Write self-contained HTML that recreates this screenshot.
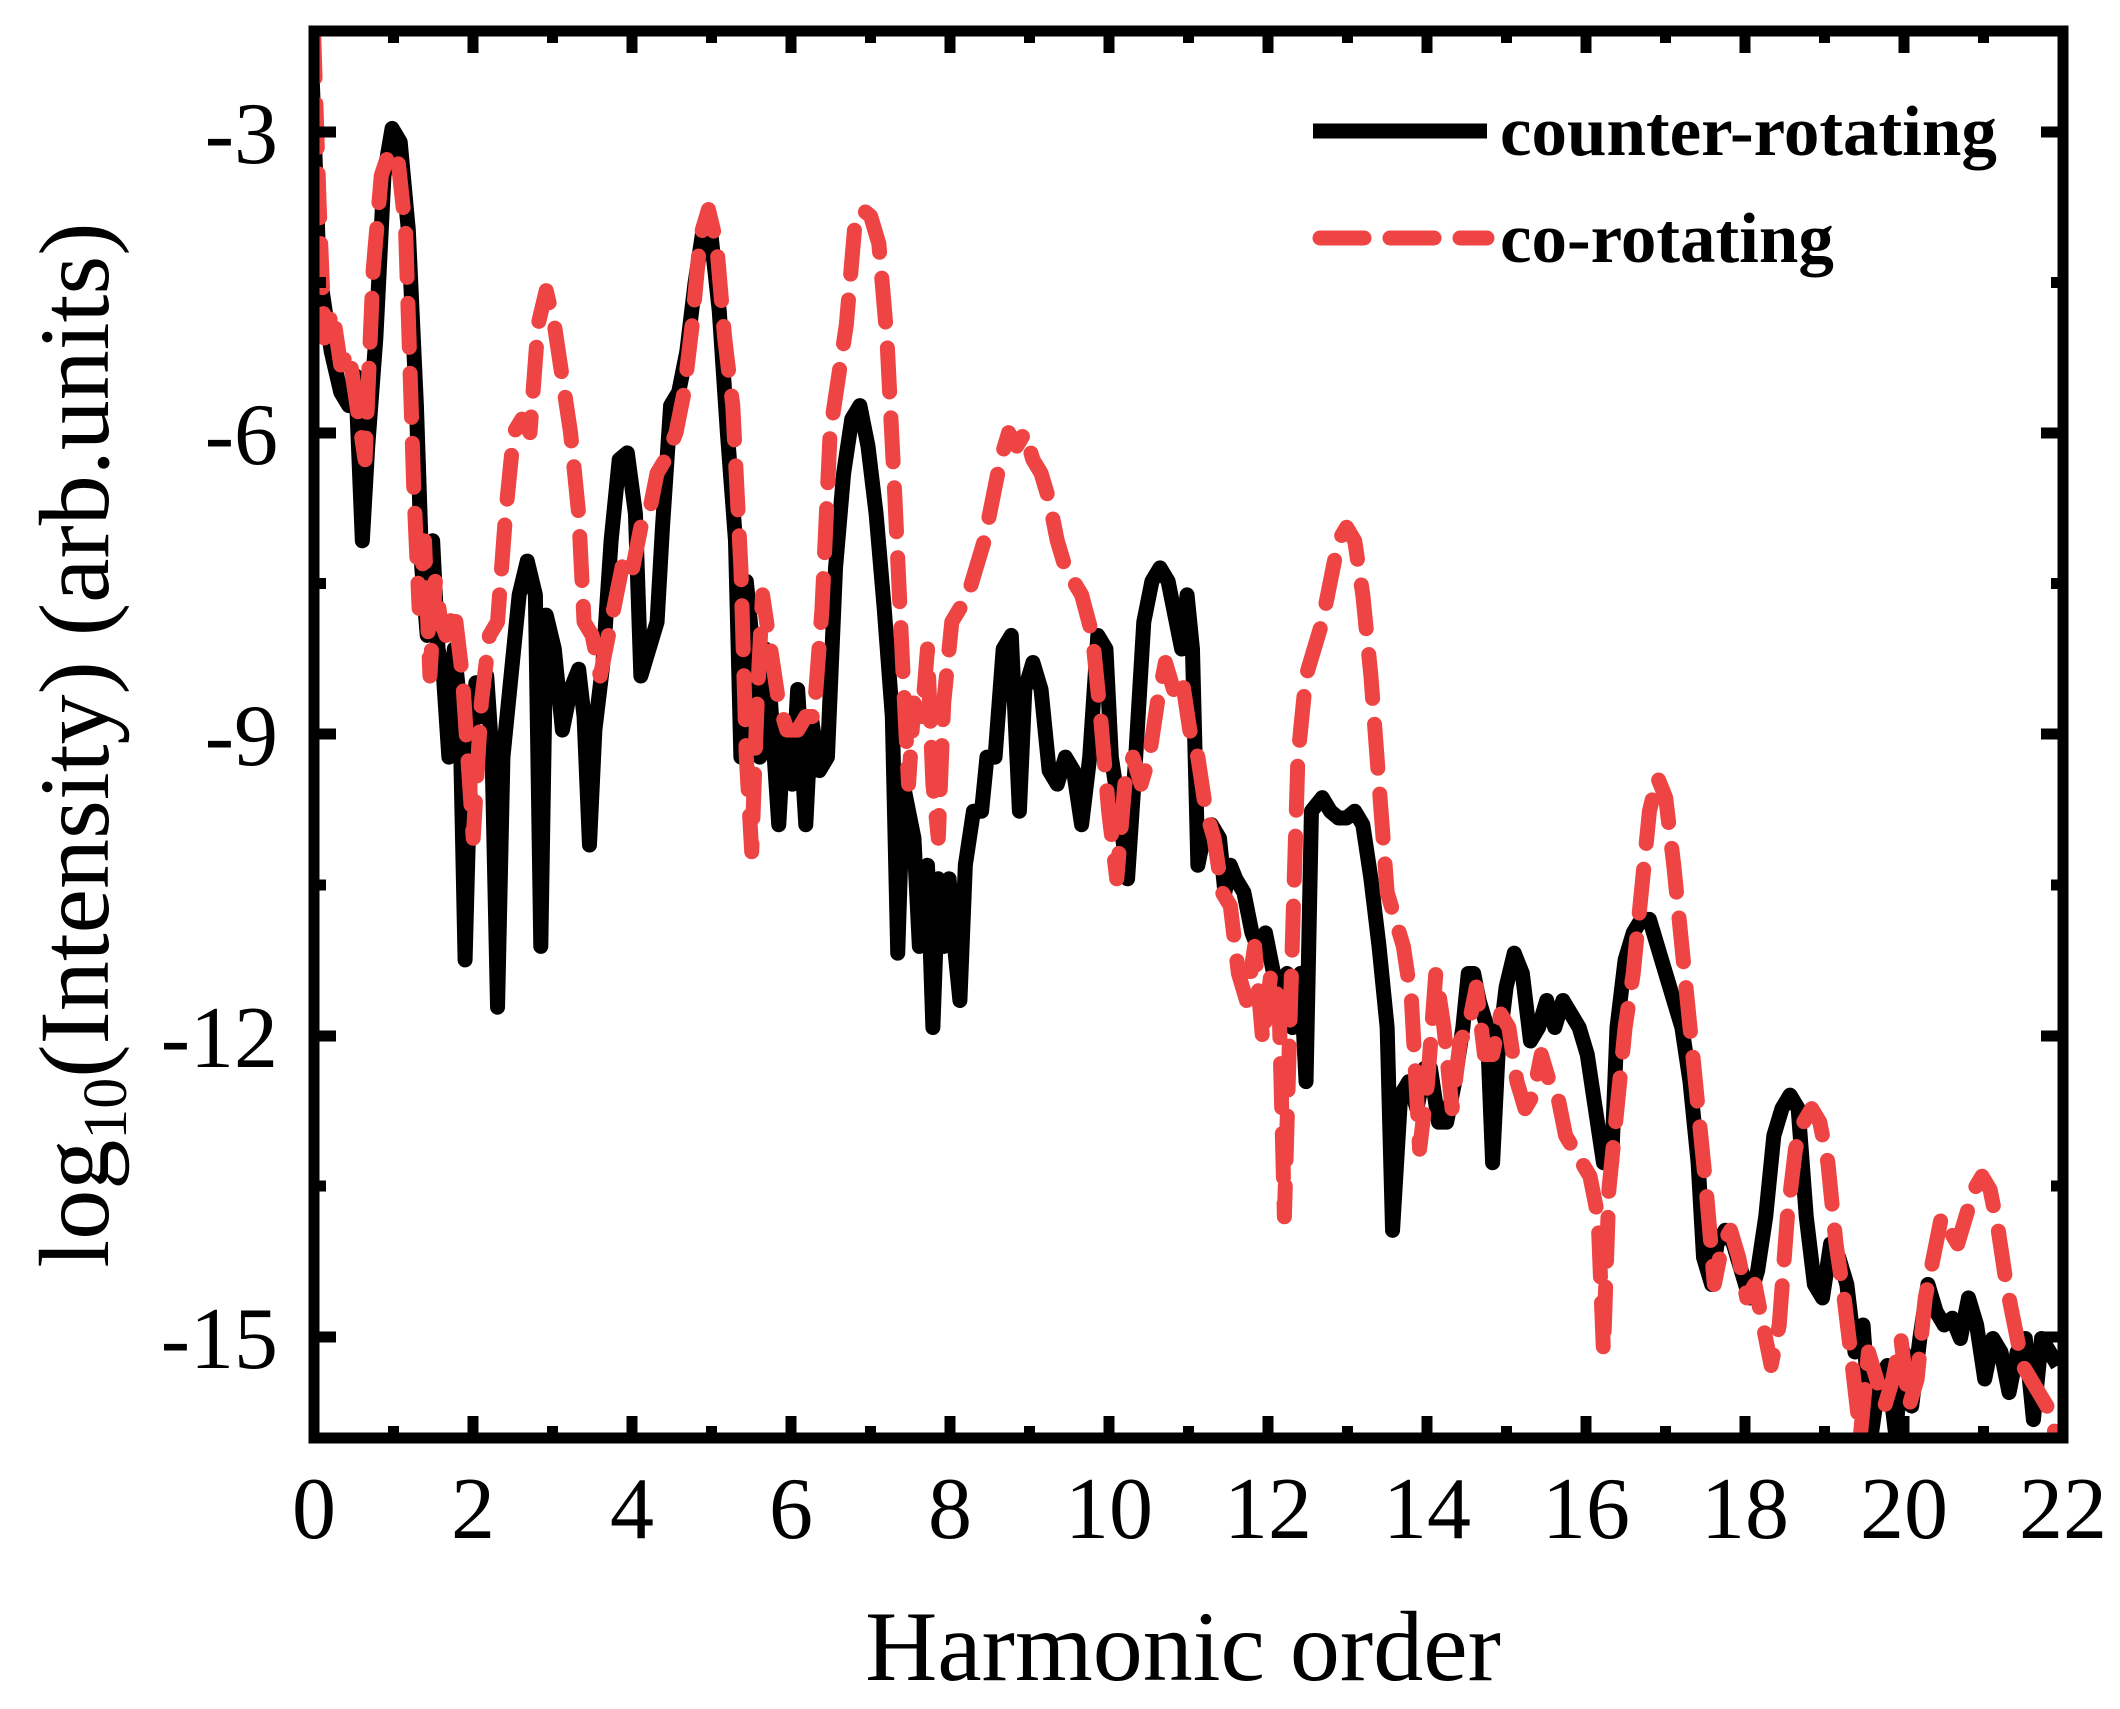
<!DOCTYPE html>
<html><head><meta charset="utf-8"><style>html,body{margin:0;padding:0;background:#fff}svg{display:block}</style></head>
<body>
<svg width="2120" height="1709" viewBox="0 0 2120 1709" xmlns="http://www.w3.org/2000/svg" font-family="Liberation Serif, serif">
<defs><clipPath id="c"><rect x="314" y="31" width="1749" height="1407"/></clipPath></defs>
<g clip-path="url(#c)">
<g transform="scale(1.352)" fill="none" stroke-linejoin="round">
<polyline stroke="#000" stroke-width="15" vector-effect="non-scaling-stroke" points="231,60 236,200 245,260 252,290 258,300 263,278 268,400 272,330 278,250 284,130 290,95 296,105 302,170 308,300 312,420 316,470 320,400 324,480 328,500 332,560 336,480 340,520 344,710 348,560 352,505 356,530 360,500 364,560 368,745 372,560 378,500 384,440 390,415 396,440 400,700 404,455 410,480 416,540 422,510 428,495 432,530 436,625 440,540 446,490 452,400 458,340 464,335 470,380 474,500 480,480 486,460 490,390 496,300 502,290 508,260 514,210 520,170 526,175 532,230 538,320 544,400 548,560 552,430 556,470 562,560 566,480 570,520 576,610 580,540 586,580 590,510 596,610 600,530 606,570 612,560 618,420 624,350 630,310 636,300 642,330 648,380 654,450 660,530 664,705 668,580 672,600 676,620 680,700 686,640 690,760 694,650 698,700 702,650 706,700 710,740 714,640 720,600 726,600 730,560 736,560 742,480 748,470 754,600 758,510 764,490 770,510 776,570 782,580 788,560 794,570 800,610 806,560 812,470 818,480 822,560 828,600 834,650 840,560 846,460 852,430 858,420 864,430 870,460 874,480 878,440 882,480 886,640 890,620 896,610 902,620 906,660 910,640 914,650 920,660 926,690 930,700 936,690 942,720 948,740 952,720 956,760 962,720 966,800 970,600 978,590 984,600 990,605 996,605 1002,600 1008,610 1014,650 1020,700 1026,760 1030,910 1036,810 1042,800 1048,820 1054,790 1058,790 1064,830 1070,830 1076,800 1082,760 1086,720 1090,720 1094,740 1100,760 1104,860 1108,780 1114,730 1120,705 1126,720 1132,770 1138,760 1144,740 1150,760 1156,740 1162,750 1168,760 1174,780 1180,820 1186,860 1192,860 1196,760 1202,710 1208,690 1214,680 1220,680 1226,700 1232,720 1238,740 1244,760 1250,800 1256,860 1260,930 1266,950 1270,920 1276,910 1282,920 1288,940 1294,960 1300,940 1306,900 1312,840 1318,820 1324,810 1330,820 1336,900 1342,950 1348,960 1354,920 1360,930 1366,950 1372,1000 1378,980 1384,1062 1390,1020 1396,1010 1402,1060 1408,1000 1414,1040 1420,990 1426,950 1432,970 1438,980 1444,975 1450,990 1456,960 1462,980 1468,1020 1474,990 1480,1000 1486,1030 1492,1000 1498,990 1504,1050 1510,990 1516,1000 1522,1010"/>
<polyline stroke="#ef4444" stroke-width="15" stroke-dasharray="44 26" stroke-linecap="round" vector-effect="non-scaling-stroke" points="232,25 236,150 240,250 246,230 252,270 258,260 264,300 270,340 276,200 282,130 288,112 294,115 300,170 306,360 310,450 314,400 318,500 322,430 326,460 330,470 336,450 342,500 346,560 350,620 356,520 362,470 368,460 374,380 380,320 386,310 392,320 398,240 404,215 410,240 416,280 422,320 428,380 432,460 438,470 444,500 450,470 456,440 462,410 468,420 474,390 480,380 486,350 492,340 500,320 506,290 512,240 518,175 524,155 530,180 536,250 542,300 548,420 552,560 556,630 560,520 564,440 570,480 576,520 582,540 590,540 596,530 602,530 608,450 614,320 620,280 626,240 632,170 638,155 644,160 650,180 656,250 662,370 668,500 672,580 676,520 682,530 686,480 690,580 694,620 698,520 704,460 710,450 716,440 722,420 728,400 734,370 740,340 746,320 752,330 758,320 764,340 770,350 776,370 782,400 788,420 794,430 800,440 808,470 814,530 820,600 826,650 832,580 838,560 844,580 850,560 856,520 862,490 868,510 874,500 880,540 886,560 892,600 898,620 904,660 910,670 916,720 922,740 928,700 934,770 940,720 946,740 950,900 954,760 960,560 966,500 972,480 978,460 984,430 990,400 996,390 1002,400 1008,440 1014,500 1020,580 1026,660 1032,680 1038,700 1044,740 1050,850 1056,800 1062,720 1068,760 1074,820 1080,770 1086,760 1092,730 1098,780 1104,780 1110,750 1116,760 1122,800 1128,820 1134,810 1140,780 1146,800 1152,810 1158,840 1164,850 1170,860 1176,870 1182,900 1186,1000 1190,880 1196,820 1202,760 1208,720 1214,660 1220,600 1226,575 1232,590 1238,640 1244,700 1250,760 1256,820 1262,880 1268,950 1274,920 1280,910 1286,930 1292,960 1298,950 1304,980 1310,1010 1316,980 1322,900 1328,850 1334,830 1340,820 1346,830 1352,860 1358,920 1364,960 1370,1010 1376,1062 1382,1000 1388,1020 1394,1040 1400,1020 1406,990 1412,1040 1418,1020 1424,960 1430,930 1436,900 1442,910 1448,920 1454,900 1460,880 1466,870 1472,880 1478,910 1484,950 1490,980 1496,1010 1502,1020 1508,1030 1514,1040 1520,1060"/>
</g></g>
<g stroke="#000" stroke-width="11">
<path d="M473,1438V1416M632,1438V1416M791,1438V1416M950,1438V1416M1109,1438V1416M1268,1438V1416M1427,1438V1416M1586,1438V1416M1745,1438V1416M1904,1438V1416
M473,31V53M632,31V53M791,31V53M950,31V53M1109,31V53M1268,31V53M1427,31V53M1586,31V53M1745,31V53M1904,31V53"/>
<path d="M393.5,1438V1426M552.5,1438V1426M711.5,1438V1426M870.5,1438V1426M1029.5,1438V1426M1188.5,1438V1426M1347.5,1438V1426M1506.5,1438V1426M1665.5,1438V1426M1824.5,1438V1426M1983.5,1438V1426
M393.5,31V43M552.5,31V43M711.5,31V43M870.5,31V43M1029.5,31V43M1188.5,31V43M1347.5,31V43M1506.5,31V43M1665.5,31V43M1824.5,31V43M1983.5,31V43"/>
<path d="M314,132H336M314,433H336M314,734H336M314,1036H336M314,1337H336M2063,132H2041M2063,433H2041M2063,734H2041M2063,1036H2041M2063,1337H2041"/>
<path d="M314,282.5H326M314,583.5H326M314,885H326M314,1186H326M2063,282.5H2051M2063,583.5H2051M2063,885H2051M2063,1186H2051"/>
<rect x="314" y="31" width="1749" height="1407" fill="none"/>
</g>
<g font-size="88" fill="#000">
<g text-anchor="middle">
<text x="314" y="1538">0</text><text x="473" y="1538">2</text><text x="632" y="1538">4</text><text x="791" y="1538">6</text><text x="950" y="1538">8</text><text x="1109" y="1538">10</text><text x="1268" y="1538">12</text><text x="1427" y="1538">14</text><text x="1586" y="1538">16</text><text x="1745" y="1538">18</text><text x="1904" y="1538">20</text><text x="2063" y="1538">22</text>
</g>
<g text-anchor="end">
<text x="278" y="163">-3</text><text x="278" y="464">-6</text><text x="278" y="765">-9</text><text x="278" y="1067">-12</text><text x="278" y="1368">-15</text>
</g>
</g>
<text x="1183" y="1680" font-size="100" text-anchor="middle">Harmonic order</text>
<text transform="translate(108,745) rotate(-90)" font-size="100" text-anchor="middle">log<tspan font-size="62" dy="18">10</tspan><tspan dy="-18">(Intensity) (arb.units)</tspan></text>
<line x1="1313" y1="131" x2="1487" y2="131" stroke="#000" stroke-width="15"/>
<line x1="1320" y1="238" x2="1487" y2="238" stroke="#ef4444" stroke-width="15" stroke-dasharray="44 26" stroke-linecap="round"/>
<g font-size="71" font-weight="bold">
<text x="1500" y="155">counter-rotating</text>
<text x="1500" y="262">co-rotating</text>
</g>
</svg>
</body></html>
